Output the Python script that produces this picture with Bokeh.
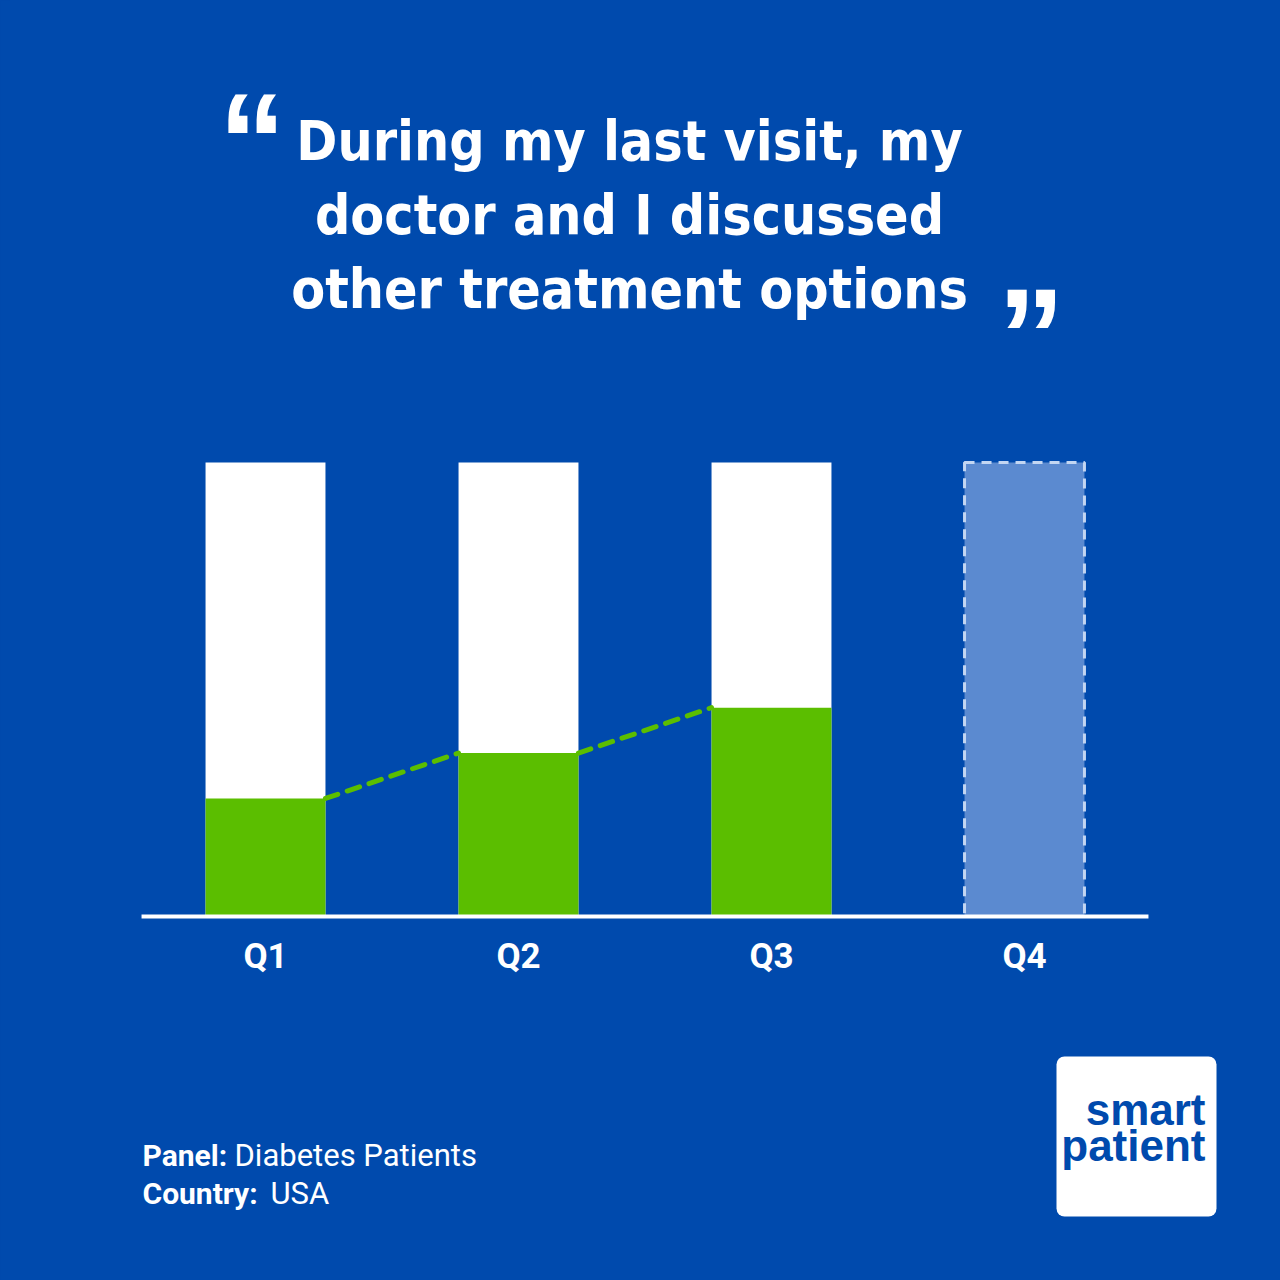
from bokeh.plotting import figure
from bokeh.models import ColumnDataSource, Label, BoxAnnotation, Range1d, FactorRange
from bokeh.transform import dodge
from bokeh.embed import file_html
from bokeh.resources import INLINE

# ---- data ----
quarters = ["Q1", "Q2", "Q3", "Q4"]
measured_quarters = ["Q1", "Q2", "Q3"]
discussed_pct = [26, 36, 46]          # share that discussed other treatment options
total_pct = [100, 100, 100]           # full bar (100 %)
pending_quarters = ["Q4"]
pending_total = [100]

title_lines = ["During my last visit, my", "doctor and I discussed", "other treatment options"]
footer_keys = ["Panel:", "Country:"]
footer_vals = ["Diabetes Patients", "USA"]
logo_lines = ["smart", "patient"]

# ---- style ----
BG = "#004AAD"
GREEN = "#5BBE00"
WHITE = "#FFFFFF"
PENDING_FILL = "#5B8AD0"
PENDING_LINE = "#C3D6F2"
TITLE_FONT = "DejaVu Sans Condensed"
QUOTE_FONT = "Liberation Sans"
BODY_FONT = "Roboto"

W = H = 1280
BAR_W = 0.474
FL = 9                       # frame left (page px); frame spans to right edge
BASE_PX, TOP_PX = 916, 462   # page px of value 0 and value 100
PPU = (BASE_PX - TOP_PX) / 100.0

p = figure(width=W, height=H, output_backend="svg", toolbar_location=None, title=None,
           x_range=FactorRange(factors=quarters, range_padding=0.5119,
                               range_padding_units="absolute", factor_padding=0),
           y_range=Range1d(-(H - BASE_PX) / PPU, 100 + TOP_PX / PPU),
           x_axis_location=None, y_axis_location=None,
           min_border_left=FL, min_border_right=0, min_border_top=0, min_border_bottom=0)
p.background_fill_color = BG
p.border_fill_color = BG
p.outline_line_color = None
p.grid.visible = False

src_done = ColumnDataSource(dict(q=measured_quarters, total=total_pct, val=discussed_pct))
p.vbar(x="q", top="total", width=BAR_W, source=src_done, fill_color=WHITE, line_color=None)
p.vbar(x="q", top="val", width=BAR_W, source=src_done, fill_color=GREEN, line_color=None)

src_pend = ColumnDataSource(dict(q=pending_quarters, total=pending_total))
p.vbar(x="q", top="total", width=BAR_W, source=src_pend, fill_color=PENDING_FILL,
       line_color=PENDING_LINE, line_width=3, line_dash="10 7")

src_seg = ColumnDataSource(dict(q0=measured_quarters[:-1], q1=measured_quarters[1:],
                                y0=discussed_pct[:-1], y1=discussed_pct[1:]))
p.segment(x0=dodge("q0", BAR_W / 2, range=p.x_range), y0="y0",
          x1=dodge("q1", -BAR_W / 2, range=p.x_range), y1="y1",
          source=src_seg, line_color=GREEN, line_width=5, line_dash="13 10", line_cap="round")

# baseline (x-axis line) and category labels
src_axis = ColumnDataSource(dict(q0=[quarters[0]], q1=[quarters[-1]], y=[0]))
p.segment(x0=dodge("q0", -0.49, range=p.x_range), y0="y",
          x1=dodge("q1", 0.49, range=p.x_range), y1="y",
          source=src_axis, line_color=WHITE, line_width=4)
src_lab = ColumnDataSource(dict(q=quarters, y=[0] * len(quarters)))
p.text(x="q", y="y", text="q", source=src_lab, y_offset=40, text_align="center",
       text_baseline="middle", text_color=WHITE, text_font={"value": BODY_FONT},
       text_font_style="bold", text_font_size="35px")

# screen units: x from frame left, y upward from frame bottom (= page bottom)
def fx(x):
    return x - FL

def fy(y, size):
    # y = wanted baseline (page px); compensate Bokeh's alphabetic offset
    return H - (y - 0.385 * size)

def label(x, y, text, size, font, style="normal", align="left", color=WHITE):
    p.add_layout(Label(x=fx(x), y=fy(y, size), x_units="screen", y_units="screen",
                       text=text, text_align=align, text_baseline="alphabetic",
                       text_color=color, text_font=font, text_font_style=style,
                       text_font_size="%dpx" % size))

# title
for i, t in enumerate(title_lines):
    label(629, 162 + 74 * i, t, 55, TITLE_FONT, "bold", "center")

label(218, 193, "\u201C", 135, QUOTE_FONT, "bold")
label(997, 388, "\u201D", 135, QUOTE_FONT, "bold")

# footer
key_x = 142
val_x = [234, 270]
for i, (k, v) in enumerate(zip(footer_keys, footer_vals)):
    yb = 1167 + 38 * i
    label(key_x, yb, k, 30, BODY_FONT, "bold")
    label(val_x[i], yb, v, 31, BODY_FONT)

# logo
p.add_layout(BoxAnnotation(left=fx(1056), right=fx(1216), top=H - 1056, bottom=H - 1216,
                           left_units="screen", right_units="screen",
                           top_units="screen", bottom_units="screen",
                           fill_color=WHITE, fill_alpha=1, line_color=None, border_radius=8))
for i, t in enumerate(logo_lines):
    label(1205, 1126 + 36 * i, t, 44, "Liberation Sans", "bold", "right", BG)

html = file_html(p, INLINE)
html = html.replace("<body>", '<body style="background-color:%s;">' % BG)
open("out.html", "w").write(html)
